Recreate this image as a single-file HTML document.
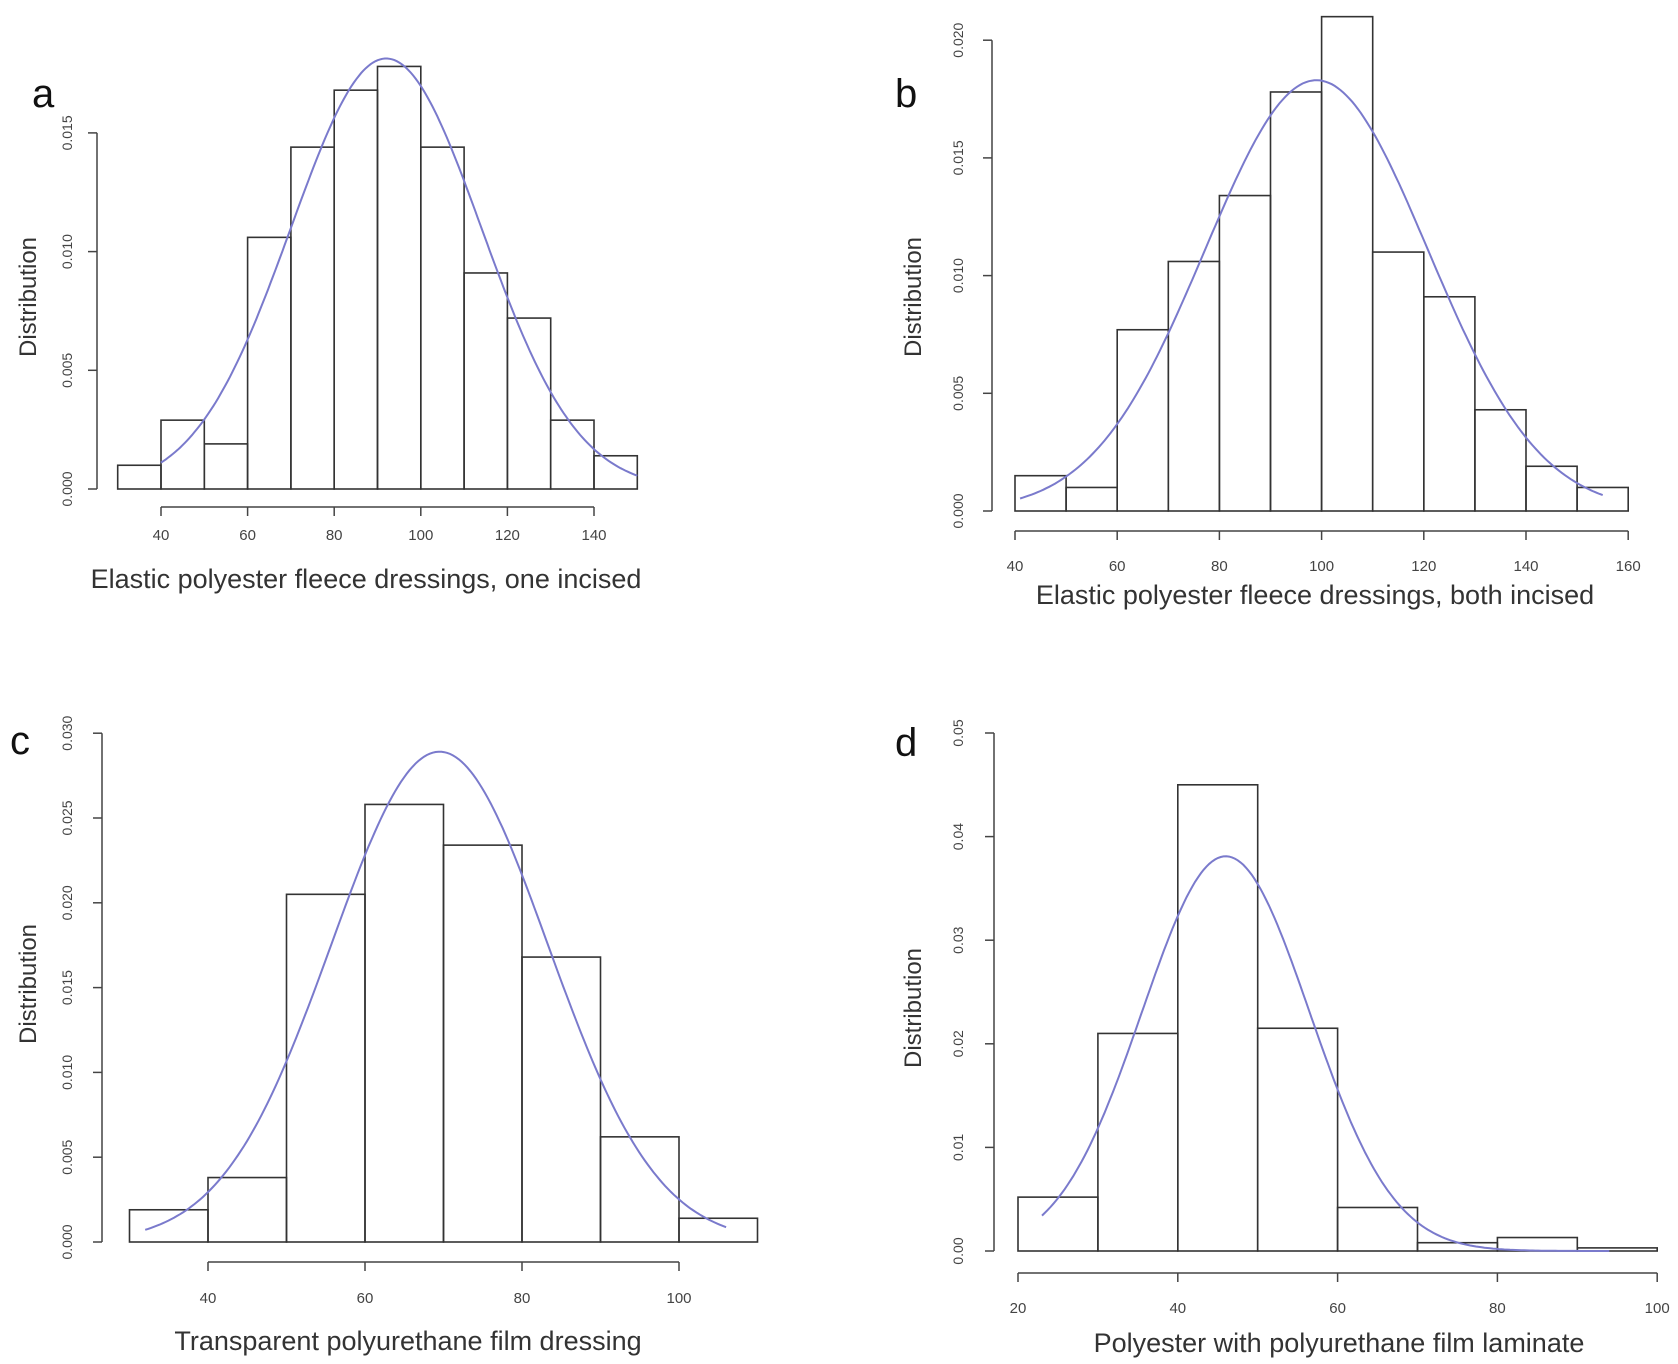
<!DOCTYPE html>
<html><head><meta charset="utf-8"><style>
html,body{margin:0;padding:0;background:#fff;}
svg{display:block;}
text{font-family:"Liberation Sans",sans-serif;fill:#444;}
</style></head><body>
<svg id="s" width="1678" height="1364" xmlns="http://www.w3.org/2000/svg"></svg>
<script>
const P=[
 {lab:'a',lx:32,ly:107,ax:97,y0:489,ypu:118.7/0.005,yt:[0,0.005,0.010,0.015],yf:3,x0v:40,x0:161,xpu:4.33,xt:[40,60,80,100,120,140],
  axy:507,tly:540,tlx:72,bins:[30,10,[0.001,0.0029,0.0019,0.0106,0.0144,0.0168,0.0178,0.0144,0.0091,0.0072,0.0029,0.0014]],
  mu:92,sd:22.0,cr:[40,150],xl:'Elastic polyester fleece dressings, one incised',xlx:366,xly:588,ylx:36,yly:297},
 {lab:'b',lx:895,ly:107,ax:992,y0:511,ypu:117.7/0.005,yt:[0,0.005,0.010,0.015,0.020],yf:3,x0v:40,x0:1015,xpu:5.11,xt:[40,60,80,100,120,140,160],
  axy:531,tly:571,tlx:963,bins:[40,10,[0.0015,0.001,0.0077,0.0106,0.0134,0.0178,0.021,0.011,0.0091,0.0043,0.0019,0.001]],
  mu:99,sd:21.8,cr:[41,155],xl:'Elastic polyester fleece dressings, both incised',xlx:1315,xly:604,ylx:921,yly:297},
 {lab:'c',lx:10,ly:754,ax:102,y0:1242,ypu:84.8/0.005,yt:[0,0.005,0.010,0.015,0.020,0.025,0.030],yf:3,x0v:40,x0:208,xpu:7.85,xt:[40,60,80,100],
  axy:1262,tly:1303,tlx:72,bins:[30,10,[0.0019,0.0038,0.0205,0.0258,0.0234,0.0168,0.0062,0.0014]],
  mu:69.5,sd:13.8,cr:[32,106],xl:'Transparent polyurethane film dressing',xlx:408,xly:1350,ylx:36,yly:984},
 {lab:'d',lx:895,ly:756,ax:994,y0:1251,ypu:103.6/0.01,yt:[0,0.01,0.02,0.03,0.04,0.05],yf:2,x0v:20,x0:1018,xpu:7.99,xt:[20,40,60,80,100],
  axy:1273,tly:1313,tlx:963,bins:[20,10,[0.0052,0.021,0.045,0.0215,0.0042,0.0008,0.0013,0.0003]],
  mu:46,sd:10.47,cr:[23,94],xl:'Polyester with polyurethane film laminate',xlx:1339,xly:1352,ylx:921,yly:1008}
];
let h='';
for(const p of P){
 const X=v=>p.x0+(v-p.x0v)*p.xpu, Y=d=>p.y0-d*p.ypu;
 h+=`<text x="${p.lx}" y="${p.ly}" font-size="40" style="fill:#111">${p.lab}</text>`;
 const yt=p.yt;
 h+=`<path d="M${p.ax} ${Y(yt[0])}V${Y(yt[yt.length-1])}" stroke="#444" stroke-width="1.5" fill="none"/>`;
 for(const t of yt){const y=Y(t);h+=`<path d="M${p.ax} ${y}H${p.ax-9}" stroke="#444" stroke-width="1.5"/>`;
  h+=`<text transform="translate(${p.tlx},${y}) rotate(-90)" text-anchor="middle" font-size="14">${t.toFixed(p.yf)}</text>`;}
 const xt=p.xt;
 h+=`<path d="M${X(xt[0])} ${p.axy}H${X(xt[xt.length-1])}" stroke="#444" stroke-width="1.5"/>`;
 for(const t of xt){const x=X(t);h+=`<path d="M${x} ${p.axy}V${p.axy+9}" stroke="#444" stroke-width="1.5"/>`;
  h+=`<text x="${x}" y="${p.tly}" text-anchor="middle" font-size="15">${t}</text>`;}
 const [b0,bw,hs]=p.bins;
 hs.forEach((v,i)=>{const xa=X(b0+i*bw),xb=X(b0+(i+1)*bw);
  h+=`<rect x="${xa}" y="${Y(v)}" width="${xb-xa}" height="${p.y0-Y(v)}" fill="none" stroke="#333" stroke-width="1.6"/>`;});
 let d='';for(let i=0;i<=200;i++){const v=p.cr[0]+(p.cr[1]-p.cr[0])*i/200;
  const f=Math.exp(-0.5*((v-p.mu)/p.sd)**2)/(p.sd*Math.sqrt(2*Math.PI));
  d+=(i?'L':'M')+X(v).toFixed(1)+' '+Y(f).toFixed(1);}
 h+=`<path d="${d}" stroke="#7a7acc" stroke-width="2" fill="none"/>`;
 h+=`<text x="${p.xlx}" y="${p.xly}" text-anchor="middle" font-size="27" style="fill:#333">${p.xl}</text>`;
 h+=`<text transform="translate(${p.ylx},${p.yly}) rotate(-90)" text-anchor="middle" font-size="24" style="fill:#333">Distribution</text>`;
}
document.getElementById('s').innerHTML=h;
</script>
</body></html>
